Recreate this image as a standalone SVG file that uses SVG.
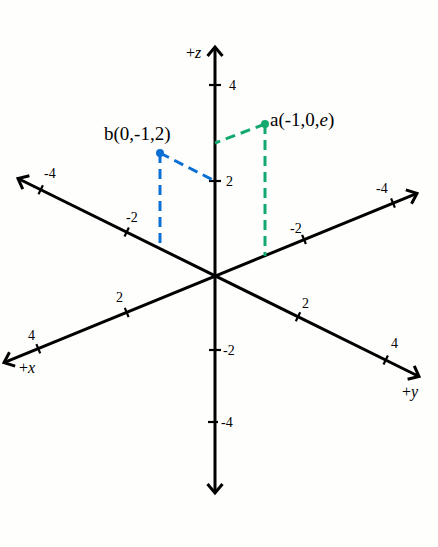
<svg xmlns="http://www.w3.org/2000/svg" width="438" height="547" viewBox="0 0 438 547">
<style>
.ax{stroke:#000;stroke-width:3;fill:none}
.tk{stroke:#000;stroke-width:2.2;fill:none}
.lb{font-family:"Liberation Serif","Times New Roman",serif;font-size:14px;fill:#000}
.an{font-family:"Liberation Serif","Times New Roman",serif;font-size:16px;fill:#000}
.pl{font-family:"Liberation Serif","Times New Roman",serif;font-size:19px;fill:#000}
.blue{stroke:#0b6fd3;stroke-width:3;stroke-dasharray:10 6;fill:none}
.green{stroke:#12a86e;stroke-width:3;stroke-dasharray:10 6;fill:none}
</style>
<defs>
<marker id="arr" markerUnits="userSpaceOnUse" markerWidth="20" markerHeight="20" viewBox="-12 -10 14 20" refX="0" refY="0" orient="auto-start-reverse">
<path d="M -9 -7.5 L 0 0 L -9 7.5" stroke="#000" stroke-width="3" fill="none"/>
</marker>
</defs>
<rect width="438" height="547" fill="#fefefd"/>
<g id="connectors">
<line id="z-axis" class="ax" x1="215" y1="47" x2="215" y2="493" marker-start="url(#arr)" marker-end="url(#arr)"/>
<line id="y-axis" class="ax" x1="18" y1="178.5" x2="419" y2="376.5" marker-start="url(#arr)" marker-end="url(#arr)"/>
<line id="x-axis" class="ax" x1="4" y1="362.6" x2="417" y2="193.4" marker-start="url(#arr)" marker-end="url(#arr)"/>
</g>
<g id="ticks">
<line class="tk" x1="209" y1="85" x2="221" y2="85" stroke-width="3"/>
<line class="tk" x1="209" y1="181" x2="221" y2="181" stroke-width="3"/>
<line class="tk" x1="209" y1="350" x2="221" y2="350" stroke-width="3"/>
<line class="tk" x1="208" y1="422" x2="218" y2="422" stroke-width="1.5"/>
<line class="tk" x1="42.9" y1="185.2" x2="38.5" y2="194.2"/>
<line class="tk" x1="128.9" y1="227.5" x2="124.5" y2="236.5"/>
<line class="tk" x1="300.2" y1="312.3" x2="295.8" y2="321.3"/>
<line class="tk" x1="387.9" y1="355.5" x2="383.5" y2="364.5"/>
<line class="tk" x1="124.8" y1="307.9" x2="128.6" y2="317.1"/>
<line class="tk" x1="36.4" y1="344.1" x2="40.2" y2="353.3"/>
<line class="tk" x1="302.1" y1="234.8" x2="305.9" y2="244.0"/>
<line class="tk" x1="391.1" y1="198.4" x2="394.9" y2="207.6"/>
</g>
<g id="axis-labels">
<text class="an" x="186" y="58">+<tspan font-style="italic">z</tspan></text>
<text class="lb" x="229" y="90">4</text>
<text class="lb" x="226" y="186">2</text>
<text class="lb" x="223" y="355">-2</text>
<text class="lb" x="221" y="427">-4</text>
<text class="lb" x="44" y="178">-4</text>
<text class="lb" x="126" y="222">-2</text>
<text class="lb" x="302" y="308">2</text>
<text class="lb" x="391" y="348">4</text>
<text class="lb" x="116" y="302">2</text>
<text class="lb" x="28" y="340">4</text>
<text class="lb" x="290" y="233">-2</text>
<text class="lb" x="376" y="193">-4</text>
<text class="an" x="19" y="373">+<tspan font-style="italic">x</tspan></text>
<text class="an" x="402" y="397">+<tspan font-style="italic">y</tspan></text>
</g>
<g id="point-b">
<line class="blue" x1="160" y1="153" x2="160" y2="248"/>
<line class="blue" x1="160" y1="153" x2="215" y2="181"/>
<circle cx="160" cy="153" r="4" fill="#0b6fd3"/>
<text class="pl" x="104" y="140">b(0,-1,2)</text>
</g>
<g id="point-a">
<line class="green" x1="265" y1="124" x2="265" y2="256"/>
<line class="green" x1="265" y1="124" x2="215" y2="143"/>
<circle cx="265" cy="124" r="4" fill="#12a86e"/>
<text class="pl" x="270" y="126">a(-1,0,<tspan font-style="italic">e</tspan>)</text>
</g>
</svg>
